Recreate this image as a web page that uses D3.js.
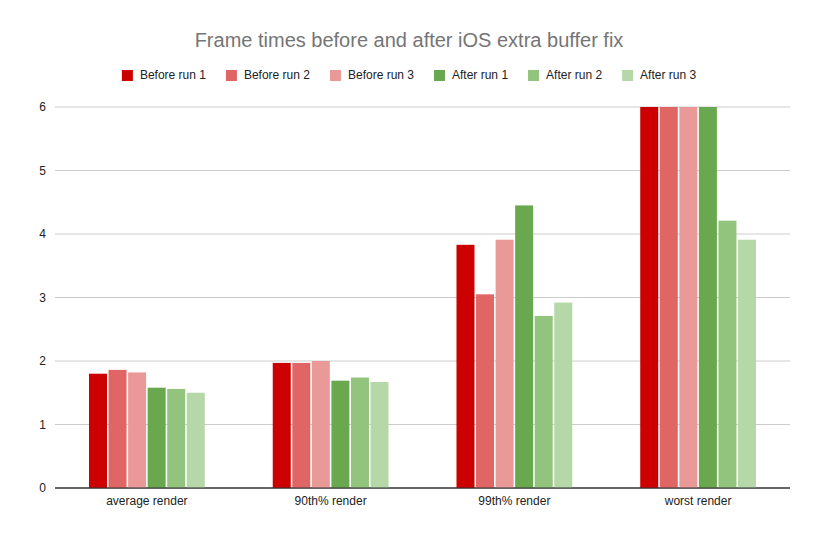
<!DOCTYPE html>
<html><head><meta charset="utf-8">
<script src="https://cdn.jsdelivr.net/npm/d3@7"></script>
<style>body{margin:0;background:#fff;font-family:Arial,"Liberation Sans",sans-serif}</style>
</head><body><svg id="c" width="818" height="535"></svg>
<script>
const categories = ["average render","90th% render","99th% render","worst render"];
const seriesNames = ["Before run 1","Before run 2","Before run 3","After run 1","After run 2","After run 3"];
const seriesColors = ["#cc0000","#e06666","#ea9999","#6aa84f","#93c47d","#b6d7a8"];
const beforeRun1 = [1.80,1.97,3.83,6.8];
const beforeRun2 = [1.86,1.97,3.05,7.2];
const beforeRun3 = [1.82,2.00,3.91,6.9];
const afterRun1  = [1.58,1.69,4.45,6.4];
const afterRun2  = [1.56,1.74,2.71,4.21];
const afterRun3  = [1.50,1.67,2.92,3.91];
const yTicks = [0,1,2,3,4,5,6];
const series = [beforeRun1,beforeRun2,beforeRun3,afterRun1,afterRun2,afterRun3];

const svg = d3.select("#c");
const L=55,R=790,T=107,B=488;
const x = d3.scaleBand().domain(categories).range([L,R]).paddingInner(0.37).paddingOuter(0.185);
const xs = d3.scaleBand().domain(d3.range(6)).range([0,x.bandwidth()]).paddingInner(0.08);
const y = d3.scaleLinear().domain([0,6]).range([B,T]);

svg.append("text").attr("x",409).attr("y",47).attr("text-anchor","middle")
  .attr("font-size",20).attr("fill","#757575").text("Frame times before and after iOS extra buffer fix");

const g = svg.append("g");
g.selectAll("line.grid").data(yTicks).join("line").attr("x1",L).attr("x2",R)
  .attr("y1",d=>y(d)).attr("y2",d=>y(d)).attr("stroke",d=>d===0?"#333":"#ccc").attr("stroke-width",1);
g.selectAll("text.yl").data(yTicks).join("text").attr("x",46).attr("y",d=>y(d)+4)
  .attr("text-anchor","end").attr("font-size",12).attr("fill","#222").text(d=>d);

series.forEach((s,i)=>{
  g.selectAll(null).data(s).join("rect")
   .attr("x",(d,j)=>x(categories[j])+xs(i)).attr("width",xs.bandwidth())
   .attr("y",d=>y(Math.min(d,6))).attr("height",d=>B-y(Math.min(d,6)))
   .attr("fill",seriesColors[i]);
});
g.append("line").attr("x1",L).attr("x2",R).attr("y1",B).attr("y2",B).attr("stroke","#333");
g.selectAll("text.xl").data(categories).join("text").attr("x",d=>x(d)+x.bandwidth()/2).attr("y",505)
  .attr("text-anchor","middle").attr("font-size",12).attr("fill","#222").text(d=>d);

// legend
const lg = svg.append("g");
let items = seriesNames.map((n,i)=>{
  const it = lg.append("g");
  it.append("rect").attr("width",11).attr("height",11).attr("y",-9).attr("fill",seriesColors[i]);
  const t = it.append("text").attr("x",18).attr("font-size",12).attr("fill","#222").text(n);
  return {it,w:18+t.node().getComputedTextLength()};
});
const gap=20;
const total=d3.sum(items,d=>d.w)+gap*(items.length-1);
let cx=409-total/2;
items.forEach(d=>{d.it.attr("transform",`translate(${cx},79)`);cx+=d.w+gap;});
</script></body></html>
